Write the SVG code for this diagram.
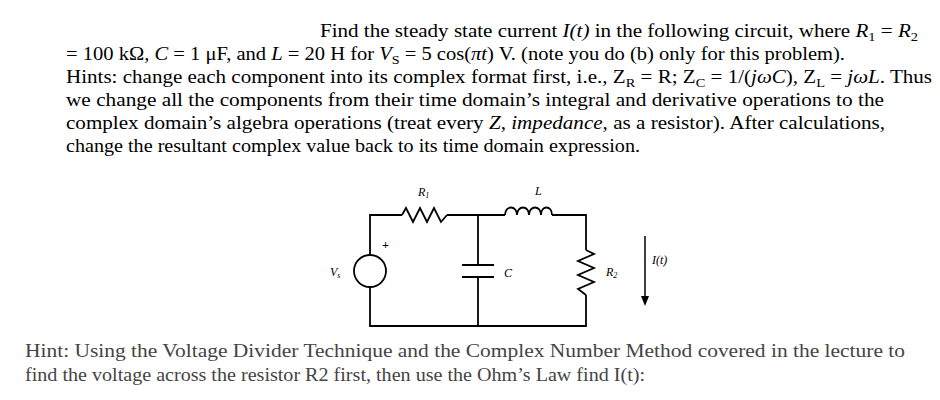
<svg xmlns="http://www.w3.org/2000/svg" width="940" height="400" viewBox="0 0 940 400">
<style>
.t{font-family:"Liberation Serif",serif;font-size:19px;fill:#000}
.h{font-family:"Liberation Serif",serif;font-size:19px;fill:#444}
.l{font-family:"Liberation Serif",serif;font-size:12px;font-style:italic;fill:#000}
.w{fill:none;stroke:#000;stroke-width:1.8}
.s{font-size:13px}
</style>
<rect width="940" height="400" fill="#fff"/>
<g id="text">
<text class="t" x="320" y="37" textLength="598" lengthAdjust="spacingAndGlyphs">Find the steady state current <tspan font-style="italic">I(t)</tspan> in the following circuit, where <tspan font-style="italic">R</tspan><tspan class="s" dy="4">1</tspan><tspan dy="-4"> = </tspan><tspan font-style="italic">R</tspan><tspan class="s" dy="4">2</tspan></text>
<text class="t" x="66" y="60" textLength="779" lengthAdjust="spacingAndGlyphs">= 100 kΩ, <tspan font-style="italic">C</tspan> = 1 μF, and <tspan font-style="italic">L</tspan> = 20 H for <tspan font-style="italic">V</tspan><tspan class="s" dy="4">S</tspan><tspan dy="-4"> = 5 cos(</tspan><tspan font-style="italic">πt</tspan>) V. (note you do (b) only for this problem).</text>
<text class="t" x="66" y="83" textLength="866" lengthAdjust="spacingAndGlyphs">Hints: change each component into its complex format first, i.e., Z<tspan class="s" dy="4">R</tspan><tspan dy="-4"> = R; Z</tspan><tspan class="s" dy="4">C</tspan><tspan dy="-4"> = 1/(</tspan><tspan font-style="italic">jωC</tspan>), Z<tspan class="s" dy="4">L</tspan><tspan dy="-4"> = </tspan><tspan font-style="italic">jωL</tspan>. Thus</text>
<text class="t" x="66" y="106" textLength="818" lengthAdjust="spacingAndGlyphs">we change all the components from their time domain’s integral and derivative operations to the</text>
<text class="t" x="66" y="129" textLength="819" lengthAdjust="spacingAndGlyphs">complex domain’s algebra operations (treat every <tspan font-style="italic">Z</tspan>, <tspan font-style="italic">impedance</tspan>, as a resistor).  After calculations,</text>
<text class="t" x="66" y="152" textLength="574" lengthAdjust="spacingAndGlyphs">change the resultant complex value back to its time domain expression.</text>
<text class="h" x="25" y="357" textLength="880" lengthAdjust="spacingAndGlyphs">Hint: Using the Voltage Divider Technique and the Complex Number Method covered in the lecture to</text>
<text class="h" x="25" y="381" textLength="620" lengthAdjust="spacingAndGlyphs">find the voltage across the resistor R2 first, then use the Ohm’s Law find I(t):</text>
</g>
<g id="connectors">
<path class="w" d="M370 255 V215 H402 M447 215 H505 M552 215 H586 V250 M586 295 V326 H370 V287 M478 215 V265 M478 277 V326"/>
<path d="M645 236 V300" stroke="#000" stroke-width="1.5"/>
<path d="M641 296 L645 306 L649 296 Z" fill="#000"/>
</g>
<g id="Vs"><circle class="w" cx="370" cy="271" r="16"/><text class="l" x="330" y="276">V<tspan font-size="8" dy="2">s</tspan></text><text class="l" x="382" y="249" font-style="normal" font-weight="bold">+</text></g>
<g id="R1"><path class="w" d="M402 215 L406 208 L413 222 L420 208 L427 222 L434 208 L441 222 L447 215"/><text class="l" x="418" y="196">R<tspan font-size="8" dy="2">1</tspan></text></g>
<g id="C"><path class="w" d="M462 265 H494 M462 277 H494"/><text class="l" x="504" y="277">C</text></g>
<g id="L"><path class="w" d="M505 215 C505 205 517 205 517 215 C517 205 529 205 529 215 C529 205 541 205 541 215 C541 205 552 205 552 215"/><text class="l" x="535" y="195">L</text></g>
<g id="R2"><path class="w" d="M586 250 L594 254 L578 261 L594 268 L578 275 L594 282 L578 289 L586 295"/><text class="l" x="606" y="276">R<tspan font-size="8" dy="2">2</tspan></text></g>
<g id="I"><text class="l" x="652" y="264" font-size="9">I(t)</text></g>
</svg>
